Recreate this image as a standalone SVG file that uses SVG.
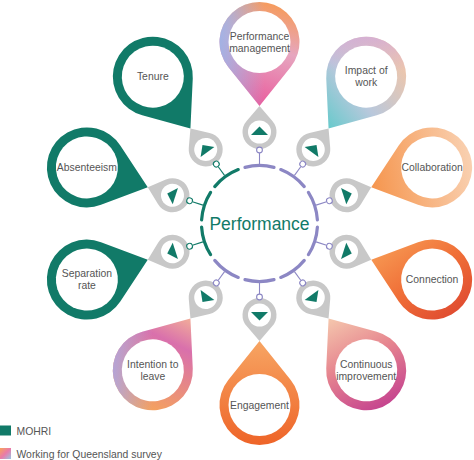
<svg xmlns="http://www.w3.org/2000/svg" width="474" height="460" viewBox="0 0 474 460">
<style>
.lbl{font-family:"Liberation Sans",Arial,sans-serif;font-size:10.4px;fill:#555;text-anchor:middle}
.ctr{font-family:"Liberation Sans",Arial,sans-serif;font-size:17.5px;fill:#117a68;text-anchor:middle}
.mohri{fill:#117a68}
.gray{fill:#c8c8c8}
.tri{fill:#117a68}
.wh{fill:#fff}
.arcP{fill:none;stroke:#8c87c4;stroke-width:3.2;stroke-linecap:round}
.arcG{fill:none;stroke:#117a68;stroke-width:3.2;stroke-linecap:round}
.lnP{stroke:#8c87c4;stroke-width:1.1}
.lnG{stroke:#117a68;stroke-width:1.1}
.dotP{fill:#fff;stroke:#8c87c4;stroke-width:1.1}
.dotG{fill:#fff;stroke:#117a68;stroke-width:1.1}
</style>
<defs>
<path id="bigpin" d="M0,-64 L31.22,-25 A40,40 0 1 1 -31.22,-25 Z"/>
<path id="graypin" d="M0,-26 L12.86,-11.12 A17,17 0 1 1 -12.86,-11.12 Z"/>
<path id="tri" d="M0,-5.5 L8.5,3 L-8.5,3 Z"/>
<linearGradient id="gPM" gradientUnits="userSpaceOnUse" gradientTransform="rotate(-180)" x1="25" y1="-40" x2="-5" y2="64">
<stop offset="0" stop-color="#f79a52"/><stop offset="0.45" stop-color="#e6a6bf"/><stop offset="1" stop-color="#ea5a9c"/></linearGradient>
<linearGradient id="gPM2" gradientUnits="userSpaceOnUse" gradientTransform="rotate(-180)" x1="-40" y1="0" x2="5" y2="0">
<stop offset="0" stop-color="#9fb3e6" stop-opacity="0.95"/><stop offset="1" stop-color="#9fb3e6" stop-opacity="0"/></linearGradient>
<linearGradient id="gIW" gradientUnits="userSpaceOnUse" gradientTransform="rotate(-216)" x1="40" y1="-15" x2="-45" y2="50">
<stop offset="0" stop-color="#f2c6a8"/><stop offset="0.55" stop-color="#b9c8dc"/><stop offset="1" stop-color="#5fcaca"/></linearGradient>
<linearGradient id="gIW2" gradientUnits="userSpaceOnUse" gradientTransform="rotate(-216)" x1="0" y1="-40" x2="0" y2="-5">
<stop offset="0" stop-color="#d3acd8" stop-opacity="0.85"/><stop offset="1" stop-color="#d3acd8" stop-opacity="0"/></linearGradient>
<linearGradient id="gCo" gradientUnits="userSpaceOnUse" gradientTransform="rotate(-252)" x1="-70" y1="20" x2="40" y2="0">
<stop offset="0" stop-color="#f59045"/><stop offset="1" stop-color="#f9d0b0"/></linearGradient>
<linearGradient id="gCn" gradientUnits="userSpaceOnUse" gradientTransform="rotate(-288)" x1="-40" y1="-45" x2="20" y2="40">
<stop offset="0" stop-color="#f79c55"/><stop offset="0.5" stop-color="#f07038"/><stop offset="1" stop-color="#df4a30"/></linearGradient>
<linearGradient id="gCI" gradientUnits="userSpaceOnUse" gradientTransform="rotate(-324)" x1="-40" y1="-55" x2="10" y2="40">
<stop offset="0" stop-color="#f6cdb0"/><stop offset="0.5" stop-color="#e6858f"/><stop offset="1" stop-color="#c6458f"/></linearGradient>
<linearGradient id="gEn" gradientUnits="userSpaceOnUse" x1="0" y1="-64" x2="0" y2="40">
<stop offset="0" stop-color="#f7a563"/><stop offset="1" stop-color="#ee6428"/></linearGradient>
<linearGradient id="gIL" gradientUnits="userSpaceOnUse" gradientTransform="rotate(-36)" x1="35" y1="-55" x2="-10" y2="40">
<stop offset="0" stop-color="#f3b098"/><stop offset="0.3" stop-color="#d970ac"/><stop offset="1" stop-color="#f6a45a"/></linearGradient>
<linearGradient id="gIL2" gradientUnits="userSpaceOnUse" gradientTransform="rotate(-36)" x1="-40" y1="0" x2="0" y2="0">
<stop offset="0" stop-color="#aea6e2" stop-opacity="0.9"/><stop offset="1" stop-color="#aea6e2" stop-opacity="0"/></linearGradient>
<linearGradient id="gLeg" x1="0" y1="0" x2="1" y2="1">
<stop offset="0" stop-color="#f7a35c"/><stop offset="0.5" stop-color="#ea7aa8"/><stop offset="1" stop-color="#98c6e4"/></linearGradient>
</defs>

<g id="node-performance-management">
<g transform="translate(259.5 42) rotate(180)"><use href="#bigpin" fill="url(#gPM)"/><use href="#bigpin" fill="url(#gPM2)"/><circle class="wh" r="31"/></g>
<g transform="translate(259.5 132) rotate(0)"><use href="#graypin" class="gray"/><circle class="wh" r="11.5"/><use href="#tri" class="tri"/></g>
<text class="lbl" x="259.5" y="39.5">Performance</text><text class="lbl" x="259.5" y="51.5">management</text>
</g>

<g id="node-impact-of-work">
<g transform="translate(366.19 76.67) rotate(216)"><use href="#bigpin" fill="url(#gIW)"/><use href="#bigpin" fill="url(#gIW2)"/><circle class="wh" r="31"/></g>
<g transform="translate(313.28 149.48) rotate(36)"><use href="#graypin" class="gray"/><circle class="wh" r="11.5"/><use href="#tri" class="tri"/></g>
<text class="lbl" x="366.19" y="74.2">Impact of</text><text class="lbl" x="366.19" y="86.2">work</text>
</g>

<g id="node-collaboration">
<g transform="translate(432.12 167.42) rotate(252)"><use href="#bigpin" fill="url(#gCo)"/><circle class="wh" r="31"/></g>
<g transform="translate(346.52 195.23) rotate(72)"><use href="#graypin" class="gray"/><circle class="wh" r="11.5"/><use href="#tri" class="tri"/></g>
<text class="lbl" x="432.12" y="171.1">Collaboration</text>
</g>

<g id="node-connection">
<g transform="translate(432.12 279.58) rotate(288)"><use href="#bigpin" fill="url(#gCn)"/><circle class="wh" r="31"/></g>
<g transform="translate(346.52 251.77) rotate(108)"><use href="#graypin" class="gray"/><circle class="wh" r="11.5"/><use href="#tri" class="tri"/></g>
<text class="lbl" x="432.12" y="283.3">Connection</text>
</g>

<g id="node-continuous-improvement">
<g transform="translate(366.19 370.33) rotate(324)"><use href="#bigpin" fill="url(#gCI)"/><circle class="wh" r="31"/></g>
<g transform="translate(313.28 297.52) rotate(144)"><use href="#graypin" class="gray"/><circle class="wh" r="11.5"/><use href="#tri" class="tri"/></g>
<text class="lbl" x="366.19" y="367.8">Continuous</text><text class="lbl" x="366.19" y="379.8">improvement</text>
</g>

<g id="node-engagement">
<g transform="translate(259.5 405) rotate(0)"><use href="#bigpin" fill="url(#gEn)"/><circle class="wh" r="31"/></g>
<g transform="translate(259.5 315) rotate(180)"><use href="#graypin" class="gray"/><circle class="wh" r="11.5"/><use href="#tri" class="tri"/></g>
<text class="lbl" x="259.5" y="408.7">Engagement</text>
</g>

<g id="node-intention-to-leave">
<g transform="translate(152.81 370.33) rotate(36)"><use href="#bigpin" fill="url(#gIL)"/><use href="#bigpin" fill="url(#gIL2)"/><circle class="wh" r="31"/></g>
<g transform="translate(205.72 297.52) rotate(216)"><use href="#graypin" class="gray"/><circle class="wh" r="11.5"/><use href="#tri" class="tri"/></g>
<text class="lbl" x="152.81" y="367.8">Intention to</text><text class="lbl" x="152.81" y="379.8">leave</text>
</g>

<g id="node-separation-rate">
<g transform="translate(86.88 279.58) rotate(72)"><use href="#bigpin" class="mohri"/><circle class="wh" r="31"/></g>
<g transform="translate(172.48 251.77) rotate(252)"><use href="#graypin" class="gray"/><circle class="wh" r="11.5"/><use href="#tri" class="tri"/></g>
<text class="lbl" x="86.88" y="277.3">Separation</text><text class="lbl" x="86.88" y="289.3">rate</text>
</g>

<g id="node-absenteeism">
<g transform="translate(86.88 167.42) rotate(108)"><use href="#bigpin" class="mohri"/><circle class="wh" r="31"/></g>
<g transform="translate(172.48 195.23) rotate(-72)"><use href="#graypin" class="gray"/><circle class="wh" r="11.5"/><use href="#tri" class="tri"/></g>
<text class="lbl" x="86.88" y="171.1">Absenteeism</text>
</g>

<g id="node-tenure">
<g transform="translate(152.81 76.67) rotate(144)"><use href="#bigpin" class="mohri"/><circle class="wh" r="31"/></g>
<g transform="translate(205.72 149.48) rotate(-36)"><use href="#graypin" class="gray"/><circle class="wh" r="11.5"/><use href="#tri" class="tri"/></g>
<text class="lbl" x="152.81" y="80.4">Tenure</text>
</g>

<g id="node-performance">
<g transform="translate(259.5 223.5)">
<path class="arcP" transform="rotate(-90)" d="M56.15,-14.52 A58,58 0 0 1 56.15,14.52"/>
<path class="arcP" transform="rotate(-54)" d="M56.15,-14.52 A58,58 0 0 1 56.15,14.52"/>
<path class="arcP" transform="rotate(-18)" d="M56.15,-14.52 A58,58 0 0 1 56.15,14.52"/>
<path class="arcP" transform="rotate(18)" d="M56.15,-14.52 A58,58 0 0 1 56.15,14.52"/>
<path class="arcP" transform="rotate(54)" d="M56.15,-14.52 A58,58 0 0 1 56.15,14.52"/>
<path class="arcP" transform="rotate(90)" d="M56.15,-14.52 A58,58 0 0 1 56.15,14.52"/>
<path class="arcP" transform="rotate(126)" d="M56.15,-14.52 A58,58 0 0 1 56.15,14.52"/>
<path class="arcG" transform="rotate(162)" d="M56.15,-14.52 A58,58 0 0 1 56.15,14.52"/>
<path class="arcG" transform="rotate(198)" d="M56.15,-14.52 A58,58 0 0 1 56.15,14.52"/>
<path class="arcG" transform="rotate(234)" d="M56.15,-14.52 A58,58 0 0 1 56.15,14.52"/>
</g>
<text class="ctr" x="259.5" y="229.8">Performance</text>
</g>

<g id="connectors">
<g transform="translate(259.5 223.5)">
<g transform="rotate(-90)"><line class="lnP" x1="59.5" y1="0" x2="70.5" y2="0"/><circle class="dotP" cx="73.5" cy="0" r="2.9"/></g>
<g transform="rotate(-54)"><line class="lnP" x1="59.5" y1="0" x2="70.5" y2="0"/><circle class="dotP" cx="73.5" cy="0" r="2.9"/></g>
<g transform="rotate(-18)"><line class="lnP" x1="59.5" y1="0" x2="70.5" y2="0"/><circle class="dotP" cx="73.5" cy="0" r="2.9"/></g>
<g transform="rotate(18)"><line class="lnP" x1="59.5" y1="0" x2="70.5" y2="0"/><circle class="dotP" cx="73.5" cy="0" r="2.9"/></g>
<g transform="rotate(54)"><line class="lnP" x1="59.5" y1="0" x2="70.5" y2="0"/><circle class="dotP" cx="73.5" cy="0" r="2.9"/></g>
<g transform="rotate(90)"><line class="lnP" x1="59.5" y1="0" x2="70.5" y2="0"/><circle class="dotP" cx="73.5" cy="0" r="2.9"/></g>
<g transform="rotate(126)"><line class="lnP" x1="59.5" y1="0" x2="70.5" y2="0"/><circle class="dotP" cx="73.5" cy="0" r="2.9"/></g>
<g transform="rotate(162)"><line class="lnG" x1="59.5" y1="0" x2="70.5" y2="0"/><circle class="dotG" cx="73.5" cy="0" r="2.9"/></g>
<g transform="rotate(198)"><line class="lnG" x1="59.5" y1="0" x2="70.5" y2="0"/><circle class="dotG" cx="73.5" cy="0" r="2.9"/></g>
<g transform="rotate(234)"><line class="lnG" x1="59.5" y1="0" x2="70.5" y2="0"/><circle class="dotG" cx="73.5" cy="0" r="2.9"/></g>
</g>
</g>

<g id="legend">
<rect x="0" y="425.5" width="11" height="10" class="mohri"/>
<text class="lbl" style="text-anchor:start" x="16.5" y="435">MOHRI</text>
<rect x="0" y="448" width="11" height="11" fill="url(#gLeg)"/>
<text class="lbl" style="text-anchor:start" x="16.5" y="457.5">Working for Queensland survey</text>
</g>
</svg>
